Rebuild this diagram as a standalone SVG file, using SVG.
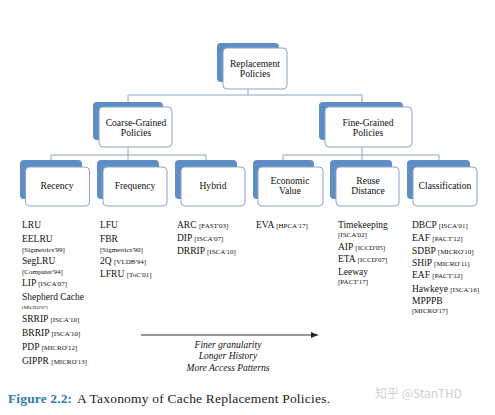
<svg xmlns="http://www.w3.org/2000/svg" width="495" height="415" viewBox="0 0 495 415">
<defs>
<style>
.sh{fill:#5f8dc6;}
.bx{fill:#fff;stroke:#8ba4c4;stroke-width:1;}
.nt{font-family:"Liberation Serif",serif;font-size:9.6px;fill:#111;text-anchor:middle;}
.it{font-family:"Liberation Serif",serif;font-size:9.5px;fill:#111;}
.sm{font-size:7px;}
.ln{fill:none;stroke:#8ba4c4;stroke-width:1;}
.cap{font-family:"Liberation Serif",serif;font-size:13.5px;fill:#222;}
.fig{fill:#2b7cb3;font-weight:bold;}
</style>
<marker id="ah" markerWidth="8" markerHeight="6" refX="7" refY="3" orient="auto" markerUnits="userSpaceOnUse">
<path d="M0,0 L7,3 L0,6 Z" fill="#222"/>
</marker>
</defs>
<rect width="495" height="415" fill="#fff"/>

<g id="connectors">
<path class="ln" d="M248,89 V95 M128,95 H362 M128,95 V102 M362,95 V102"/>
<path class="ln" d="M128,147 V155 M51,155 H206 M51,155 V160 M128,155 V160 M206,155 V160"/>
<path class="ln" d="M362,147 V155 M283,155 H439 M283,155 V160 M362,155 V160 M439,155 V160"/>
</g>

<g id="root">
<rect class="sh" x="217" y="43" width="62" height="39" rx="4"/>
<rect class="bx" x="223" y="48" width="64" height="41" rx="4"/>
<text class="nt" x="255" y="67">Replacement</text>
<text class="nt" x="255" y="77">Policies</text>
</g>
<g id="coarse">
<rect class="sh" x="93" y="102" width="70" height="38" rx="4"/>
<rect class="bx" x="99" y="107" width="73" height="40" rx="4"/>
<text class="nt" x="136" y="126">Coarse-Grained</text>
<text class="nt" x="136" y="136">Policies</text>
</g>
<g id="fine">
<rect class="sh" x="319" y="102" width="84" height="38" rx="4"/>
<rect class="bx" x="325" y="107" width="87" height="40" rx="4"/>
<text class="nt" x="368" y="126">Fine-Grained</text>
<text class="nt" x="368" y="136">Policies</text>
</g>

<g id="recency">
<rect class="sh" x="20" y="160" width="62" height="39" rx="4"/>
<rect class="bx" x="25.5" y="167" width="64" height="39" rx="4"/>
<text class="nt" x="57" y="189">Recency</text>
</g>
<g id="frequency">
<rect class="sh" x="97" y="160" width="62" height="39" rx="4"/>
<rect class="bx" x="103" y="167" width="64" height="39" rx="4"/>
<text class="nt" x="135" y="189">Frequency</text>
</g>
<g id="hybrid">
<rect class="sh" x="175" y="160" width="62" height="39" rx="4"/>
<rect class="bx" x="181" y="167" width="64" height="39" rx="4"/>
<text class="nt" x="213" y="189">Hybrid</text>
</g>
<g id="economic">
<rect class="sh" x="253" y="160" width="61" height="39" rx="4"/>
<rect class="bx" x="258" y="167" width="65" height="39" rx="4"/>
<text class="nt" x="290" y="184">Economic</text>
<text class="nt" x="290" y="194">Value</text>
</g>
<g id="reuse">
<rect class="sh" x="330" y="160" width="62" height="39" rx="4"/>
<rect class="bx" x="336" y="167" width="63" height="39" rx="4"/>
<text class="nt" x="368" y="184">Reuse</text>
<text class="nt" x="368" y="194">Distance</text>
</g>
<g id="classification">
<rect class="sh" x="407" y="160" width="63" height="39" rx="4"/>
<rect class="bx" x="413" y="167" width="64" height="39" rx="4"/>
<text class="nt" x="445" y="189">Classification</text>
</g>

<g id="list-recency" class="it">
<text x="22" y="228">LRU</text>
<text x="22" y="242">EELRU</text>
<text x="22" y="252" class="sm">[Sigmetrics'99]</text>
<text x="22" y="264">SegLRU</text>
<text x="22" y="274" class="sm">[Computer'94]</text>
<text x="22" y="286">LIP <tspan class="sm">[ISCA'07]</tspan></text>
<text x="22" y="300">Shepherd Cache</text>
<text x="22" y="309" font-size="5">[MICRO'07]</text>
<text x="22" y="322">SRRIP <tspan class="sm">[ISCA'10]</tspan></text>
<text x="22" y="336">BRRIP <tspan class="sm">[ISCA'10]</tspan></text>
<text x="22" y="350">PDP <tspan class="sm">[MICRO'12]</tspan></text>
<text x="22" y="364">GIPPR <tspan class="sm">[MICRO'13]</tspan></text>
</g>
<g id="list-frequency" class="it">
<text x="100" y="228">LFU</text>
<text x="100" y="242">FBR</text>
<text x="100" y="252" class="sm">[Sigmetrics'90]</text>
<text x="100" y="264">2Q <tspan class="sm">[VLDB'94]</tspan></text>
<text x="100" y="277">LFRU <tspan class="sm">[ToC'01]</tspan></text>
</g>
<g id="list-hybrid" class="it">
<text x="177" y="228">ARC <tspan class="sm">[FAST'03]</tspan></text>
<text x="177" y="241">DIP <tspan class="sm">[ISCA'07]</tspan></text>
<text x="177" y="254">DRRIP <tspan class="sm">[ISCA'10]</tspan></text>
</g>
<g id="list-economic" class="it">
<text x="256" y="228">EVA <tspan class="sm">[HPCA'17]</tspan></text>
</g>
<g id="list-reuse" class="it">
<text x="338" y="228">Timekeeping</text>
<text x="338" y="237" class="sm">[ISCA'02]</text>
<text x="338" y="250">AIP <tspan class="sm">[ICCD'05]</tspan></text>
<text x="338" y="262">ETA <tspan class="sm">[ICCD'07]</tspan></text>
<text x="338" y="275">Leeway</text>
<text x="338" y="284" class="sm">[PACT'17]</text>
</g>
<g id="list-classification" class="it">
<text x="412" y="228">DBCP <tspan class="sm">[ISCA'01]</tspan></text>
<text x="412" y="241">EAF <tspan class="sm">[PACT'12]</tspan></text>
<text x="412" y="254">SDBP <tspan class="sm">[MICRO'10]</tspan></text>
<text x="412" y="266">SHiP <tspan class="sm">[MICRO'11]</tspan></text>
<text x="412" y="278">EAF <tspan class="sm">[PACT'12]</tspan></text>
<text x="412" y="292">Hawkeye <tspan class="sm">[ISCA'16]</tspan></text>
<text x="412" y="304">MPPPB</text>
<text x="412" y="313" class="sm">[MICRO'17]</text>
</g>

<g id="arrow">
<line x1="141" y1="335" x2="318" y2="335" stroke="#333" stroke-width="1" marker-end="url(#ah)"/>
<text x="228" y="348" class="it" text-anchor="middle" font-style="italic">Finer granularity</text>
<text x="228" y="359" class="it" text-anchor="middle" font-style="italic">Longer History</text>
<text x="228" y="371" class="it" text-anchor="middle" font-style="italic">More Access Patterns</text>
</g>

<g id="caption">
<text x="8" y="403" class="cap fig" textLength="64">Figure 2.2:</text>
<text x="77" y="403" class="cap" textLength="253">A Taxonomy of Cache Replacement Policies.</text>
<text x="375" y="398" font-family="'Noto Sans CJK SC','Liberation Sans',sans-serif" font-size="12" fill="#cfcfcf">知乎 @StanTHD</text>
</g>
</svg>
